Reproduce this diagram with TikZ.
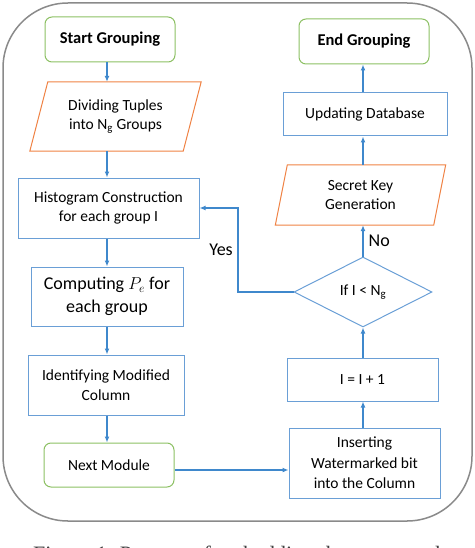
\documentclass[tikz,border=0pt]{standalone}
\usepackage{fontspec}
\setmainfont{Carlito}
\newfontfamily\capfont{Liberation Serif}
\usetikzlibrary{shapes.geometric,arrows.meta,calc}
\definecolor{gbord}{HTML}{8CC063}
\definecolor{obord}{HTML}{EF8244}
\definecolor{bbord}{HTML}{6A9FD6}
\definecolor{arr}{HTML}{3F88CC}
\definecolor{outer}{HTML}{8A8A8A}
\begin{document}
\begin{tikzpicture}[x=1pt,y=-1pt,
  base/.style={align=center,inner sep=0pt,font=\fontsize{15.5}{19.5}\selectfont},
  greenbox/.style={base,draw=gbord,line width=1pt,rounded corners=7pt},
  bluebox/.style={base,draw=bbord,line width=1pt},
  parbox/.style={base},
  diam/.style={base,draw=bbord,line width=1pt,shape=diamond},
  flow/.style={draw=arr,line width=1.4pt,-{Latex[length=6pt,width=5pt]}},
  lab/.style={font=\fontsize{18}{20}\selectfont,inner sep=0pt}
]
\useasboundingbox (0,0) rectangle (474,548);
\draw[outer,line width=1.5pt,rounded corners=65pt] (3,3) rectangle (472,521);

% left column
\node[greenbox,minimum width=130,minimum height=45,font=\bfseries\fontsize{16.5}{19}\selectfont] (start) at (110,39.5) {Start Grouping};
\node[parbox,minimum width=153,minimum height=69] (div) at (115.5,116.5) {Dividing Tuples\\into N\textsubscript{g} Groups};
\draw[obord,line width=1pt] ([xshift=9pt]div.north west) -- ([xshift=9pt]div.north east) -- ([xshift=-9pt]div.south east) -- ([xshift=-9pt]div.south west) -- cycle;
\node[bluebox,minimum width=181,minimum height=60] (hist) at (108.5,208) {Histogram Construction\\for each group I};
\node[bluebox,minimum width=152,minimum height=59,font=\fontsize{18}{23}\selectfont] (comp) at (107,296.5) {Computing $P_e$ for\\each group};
\node[bluebox,minimum width=156,minimum height=60] (ident) at (106,385) {Identifying Modified\\Column};
\node[greenbox,minimum width=130,minimum height=44] (next) at (109,465) {Next Module};

% right column
\node[greenbox,minimum width=130,minimum height=45,font=\bfseries\fontsize{16.5}{19}\selectfont] (end) at (364,41.5) {End Grouping};
\node[bluebox,minimum width=164,minimum height=43] (upd) at (365,114.5) {Updating Database};
\node[parbox,minimum width=158,minimum height=60] (sec) at (360.5,195) {Secret Key\\Generation};
\draw[obord,line width=1pt] ([xshift=6pt]sec.north west) -- ([xshift=6pt]sec.north east) -- ([xshift=-6pt]sec.south east) -- ([xshift=-6pt]sec.south west) -- cycle;
\node[diam,minimum width=138,minimum height=70] (if) at (363,292) {If I {\textless} N\textsubscript{g}};
\node[bluebox,minimum width=151,minimum height=43] (inc) at (362.5,379.5) {I = I + 1};
\node[bluebox,minimum width=151,minimum height=70,font=\fontsize{15.5}{20.5}\selectfont] (ins) at (364.5,463) {Inserting\\Watermarked bit\\into the Column};

% connectors
\coordinate (lx) at (107,0);
\coordinate (rx) at (363,0);
\draw[flow] (start.south -| lx) -- (div.north -| lx);
\draw[flow] (div.south -| lx) -- (hist.north -| lx);
\draw[flow] (hist.south -| lx) -- (comp.north -| lx);
\draw[flow] (comp.south -| lx) -- (ident.north -| lx);
\draw[flow] (ident.south -| lx) -- (next.north -| lx);
\coordinate (nmout) at ($(next.east)+(0,5)$);
\draw[flow] (nmout) -- (nmout -| ins.west);
\draw[flow] (ins.north -| rx) -- (inc.south -| rx);
\draw[flow] (inc.north -| rx) -- (if.south);
\draw[flow] (if.north) -- (sec.south -| rx) node[lab,pos=0.5,right=5pt] (no) {No};
\draw[flow] (sec.north -| rx) -- (upd.south -| rx);
\draw[flow] (upd.north -| rx) -- (end.south -| rx);
\coordinate (bend) at (238,292);
\draw[flow] (if.west) -- (bend) |- (hist.east);
\node[lab] (yes) at (221,250) {Yes};

% caption, cut off by the lower edge as in the reference
\node[anchor=base west,inner sep=0pt,text=black!75,font=\capfont\fontsize{22}{24}\selectfont] (cap) at (33,561.5) {Figure 1. Process of embedding the watermark};
\end{tikzpicture}
\end{document}
